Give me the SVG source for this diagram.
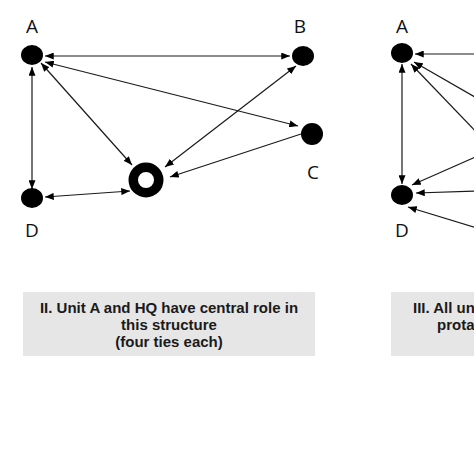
<svg xmlns="http://www.w3.org/2000/svg" width="474" height="474" viewBox="0 0 474 474">
<style>
.lbl{font-family:"Open Sans","Liberation Sans",Arial,sans-serif;font-size:19px;fill:#111;text-anchor:middle}
.box{fill:#e6e6e6}
.bt{font-family:"Liberation Sans",Arial,sans-serif;font-size:15px;font-weight:bold;fill:#1a1a1a}
.e{stroke:#1a1a1a;stroke-width:1.2;fill:none}
.node{fill:#000}
</style>
<defs>
<marker id="ah" viewBox="0 0 10 8" refX="10" refY="4" markerWidth="9" markerHeight="7" markerUnits="userSpaceOnUse" orient="auto-start-reverse">
<path d="M0,0 L10,4 L0,8 z" fill="#000"/>
</marker>
</defs>
<rect width="474" height="474" fill="#fff"/>
<g id="connectors">
<line class="e" x1="45" y1="56" x2="290" y2="56" marker-start="url(#ah)" marker-end="url(#ah)"/>
<line class="e" x1="32" y1="67" x2="32" y2="189" marker-start="url(#ah)" marker-end="url(#ah)"/>
<line class="e" x1="41" y1="63" x2="132" y2="165" marker-start="url(#ah)" marker-end="url(#ah)"/>
<line class="e" x1="45" y1="62" x2="298" y2="126" marker-start="url(#ah)" marker-end="url(#ah)"/>
<line class="e" x1="296" y1="66" x2="165" y2="167" marker-start="url(#ah)" marker-end="url(#ah)"/>
<line class="e" x1="301" y1="134" x2="170" y2="177" marker-end="url(#ah)"/>
<line class="e" x1="45" y1="197" x2="130" y2="191" marker-start="url(#ah)" marker-end="url(#ah)"/>
<line class="e" x1="480" y1="54" x2="415" y2="54" marker-end="url(#ah)"/>
<line class="e" x1="480" y1="100" x2="414" y2="62" marker-end="url(#ah)"/>
<line class="e" x1="480" y1="136" x2="411" y2="64" marker-end="url(#ah)"/>
<line class="e" x1="402" y1="64" x2="402" y2="184" marker-start="url(#ah)" marker-end="url(#ah)"/>
<line class="e" x1="480" y1="155" x2="412" y2="185" marker-end="url(#ah)"/>
<line class="e" x1="480" y1="191" x2="416" y2="193" marker-end="url(#ah)"/>
<line class="e" x1="480" y1="229" x2="408" y2="207" marker-end="url(#ah)"/>
</g>
<g id="nodeA"><ellipse class="node" cx="32" cy="55" rx="11" ry="10"/><text class="lbl" x="32" y="33">A</text></g>
<g id="nodeB"><ellipse class="node" cx="303" cy="56" rx="11" ry="10"/><text class="lbl" x="300" y="33">B</text></g>
<g id="nodeC"><ellipse class="node" cx="312" cy="134" rx="11" ry="11"/><text class="lbl" x="313" y="179">C</text></g>
<g id="nodeD"><ellipse class="node" cx="32" cy="198" rx="11" ry="10"/><text class="lbl" x="32" y="237">D</text></g>
<g id="nodeHQ"><circle cx="146" cy="180" r="12.75" fill="#fff" stroke="#000" stroke-width="9.5"/></g>
<g id="nodeA2"><ellipse class="node" cx="402" cy="53" rx="11" ry="10"/><text class="lbl" x="402" y="33">A</text></g>
<g id="nodeD2"><ellipse class="node" cx="402" cy="195" rx="11" ry="10"/><text class="lbl" x="402" y="237">D</text></g>
<g id="caption2">
<rect class="box" x="23" y="292" width="292" height="64"/>
<text class="bt" x="169" y="313" text-anchor="middle">II. Unit A and HQ have central role in</text>
<text class="bt" x="169" y="330" text-anchor="middle">this structure</text>
<text class="bt" x="169" y="347" text-anchor="middle">(four ties each)</text>
</g>
<g id="caption3">
<rect class="box" x="391" y="292" width="90" height="64"/>
<text class="bt" x="413" y="313">III. All un</text>
<text class="bt" x="437" y="330">protag</text>
</g>
</svg>
